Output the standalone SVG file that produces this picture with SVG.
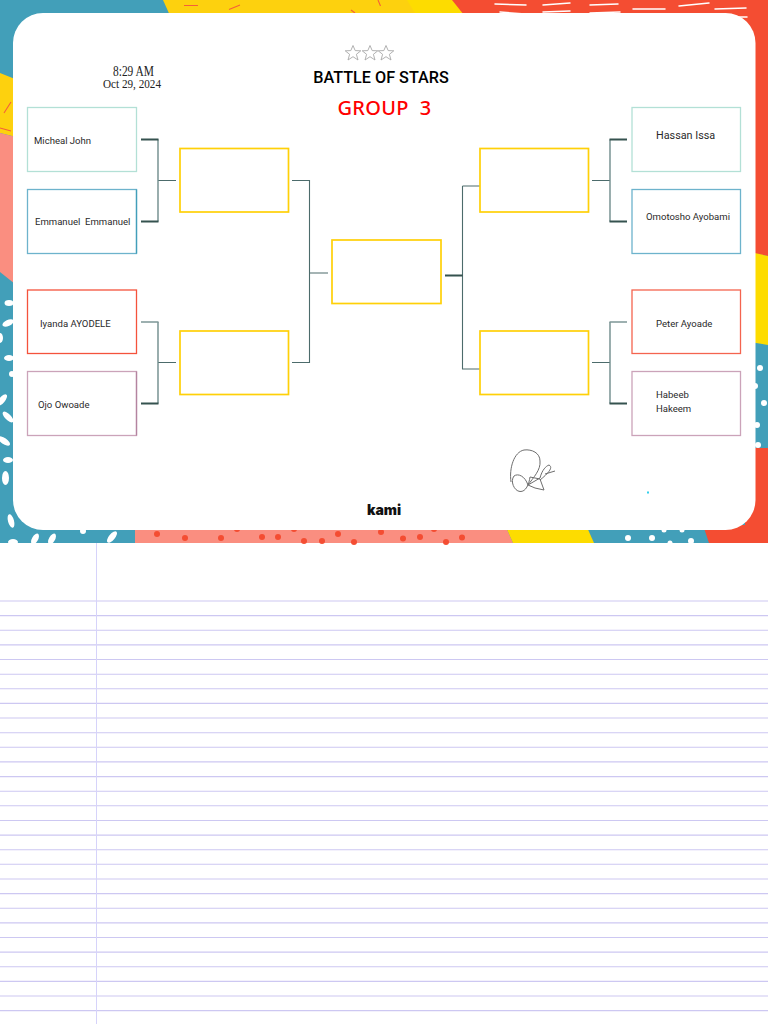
<svg xmlns="http://www.w3.org/2000/svg" width="768" height="1024" viewBox="0 0 768 1024">
<style>
.t{font-family:"Roboto","Liberation Sans",sans-serif;font-size:9.55px;fill:#2a2a2a}
.y{fill:#fff;stroke:#ffd008;stroke-width:1.7}
.c{fill:none;stroke:#4c6b6b;stroke-width:1.1}
.v{fill:none;stroke:#6f8c8c;stroke-width:1.4}
.c2{fill:none;stroke:#35524f;stroke-width:1.8}
.c3{fill:none;stroke:#7d9696;stroke-width:1.3}
.r{stroke:#cdc8f2;stroke-width:1.1;fill:none}
.w{stroke:#fff;stroke-width:1.5;stroke-linecap:round;fill:none}
.s{fill:#fff;stroke:#a8a8a8;stroke-width:.9}
.n{fill:#fff;stroke-width:1.3}
.e{fill:none;stroke-width:1.3}
</style>
<defs><polygon id="st" points="0,-7.500 2.200,-2.400 7.800,-2.200 3.400,1.300 5,7 0,3.700 -5,7 -3.400,1.300 -7.800,-2.200 -2.200,-2.400"/></defs>
<rect width="768" height="1024" fill="#fff"/>
<g id="background">
<rect width="768" height="543" fill="#429fb9"/>
<polygon points="163,0 470,0 470,20 172,20" fill="#fdd10e"/>
<polygon points="407,0 452,0 468,20 419,20" fill="#fddc00"/>
<polygon points="452,0 768,0 768,256 745,252 745,20 468,20" fill="#f44d32"/>
<polygon points="750,252 768,256 768,345 750,342" fill="#fddc00"/>
<polygon points="745,448 768,448 768,543 709,543 703,525 745,525" fill="#f44d32"/>
<polygon points="0,73 20,81 20,138 0,133" fill="#fdd10e"/>
<polygon points="0,133 20,138 20,288 0,272" fill="#fa8e80"/>
<polygon points="135,525 505,525 513,543 135,543" fill="#fa8e80"/>
<polygon points="505,525 586,525 594,543 513,543" fill="#fddc00"/>
<path stroke="#f4603a" stroke-width="1.100" fill="none" d="M184,5.500H198M229,9.500L240,5M378,0L380.500,6M351,10L355,13M4,113L11,102M0,128L11,131"/>
<path class="w" d="M495,4L526,5M543,5L570,3M590,5L618,4M633,9L665,9M679,6L709,3M715,9L746,8M500,12L525,14M543,12L570,11M590,13L620,12M735,17L747,17"/>
<g fill="#fff"><ellipse cx="9" cy="303" rx="4.500" ry="3"/><ellipse cx="8" cy="323" rx="6" ry="3" transform="rotate(-25 8 323)"/><ellipse cx="0" cy="338" rx="3" ry="5"/><ellipse cx="9" cy="358" rx="5" ry="3"/><ellipse cx="12" cy="374" rx="3" ry="3"/><ellipse cx="2" cy="400" rx="7" ry="3" transform="rotate(-50 2 400)"/><ellipse cx="8" cy="417" rx="7" ry="3" transform="rotate(45 8 417)"/><ellipse cx="4" cy="441" rx="7" ry="3" transform="rotate(35 4 441)"/><ellipse cx="8" cy="460" rx="5" ry="3"/><ellipse cx="5.500" cy="478" rx="3.500" ry="7"/><ellipse cx="11" cy="521" rx="3" ry="7" transform="rotate(-15 11 521)"/><ellipse cx="13" cy="542" rx="5" ry="3"/><ellipse cx="83" cy="531" rx="3" ry="3"/><ellipse cx="35" cy="539" rx="3" ry="6" transform="rotate(30 35 539)"/><ellipse cx="52" cy="539" rx="3" ry="6" transform="rotate(30 52 539)"/><ellipse cx="112" cy="537" rx="3" ry="7" transform="rotate(40 112 537)"/><circle cx="760" cy="368" r="3"/><circle cx="755" cy="386" r="3"/><circle cx="764" cy="403" r="3"/><circle cx="757" cy="425" r="3"/><circle cx="758" cy="445" r="3"/><circle cx="628" cy="538" r="3"/><circle cx="652" cy="538" r="3"/><circle cx="664" cy="530" r="2.500"/><circle cx="682" cy="530" r="2.500"/><circle cx="670" cy="543" r="2.500"/><circle cx="691" cy="541" r="3"/></g>
<g fill="#f44d32"><circle cx="157" cy="534" r="3"/><circle cx="185" cy="538" r="3"/><circle cx="221" cy="538" r="3"/><circle cx="237" cy="529" r="3"/><circle cx="262" cy="537" r="3"/><circle cx="278" cy="537" r="3"/><circle cx="294" cy="529" r="3"/><circle cx="304" cy="541" r="3"/><circle cx="322" cy="541" r="3"/><circle cx="338" cy="534" r="3"/><circle cx="354" cy="542" r="3"/><circle cx="381" cy="532" r="3"/><circle cx="403" cy="538.500" r="3"/><circle cx="420" cy="537" r="3"/><circle cx="434" cy="529" r="3"/><circle cx="446" cy="542" r="3"/><circle cx="462" cy="537.500" r="3"/></g>
<rect x="13" y="13" width="742.500" height="517" rx="30" fill="#fff"/>
</g>
<g id="paper">
<path class="r" d="M0,601H768M0,615.600H768M0,630.300H768M0,644.900H768M0,659.500H768M0,674.200H768M0,688.800H768M0,703.400H768M0,718H768M0,732.700H768M0,747.300H768M0,761.900H768M0,776.600H768M0,791.200H768M0,805.800H768M0,820.500H768M0,835.100H768M0,849.700H768M0,864.300H768M0,879H768M0,893.600H768M0,908.200H768M0,922.900H768M0,937.500H768M0,952.100H768M0,966.800H768M0,981.400H768M0,996H768M0,1010.600H768"/>
<path stroke="#d6d3fa" stroke-width="1" d="M96.500,543V1024"/>
</g>
<g id="connectors">
<path class="c" d="M158,180.500H176M292,180.500H309.500V362.500H292M309.500,273H328M462.500,186H480M462.500,186V369H480M592,180.500H610M592,362.500H610M158,362.500H176"/>
<path class="v" d="M158,139.500V221.500M158,322V403.500M610,139.500V221.500M610,322V403.500"/>
<path class="c2" d="M141,139.500H158.500M141,221.500H158.500M141,403.500H158.500M627,139.500H609.500M627,221.500H609.500M627,403.500H609.500M445,275.500H462.500"/>
<path class="c3" d="M141,322H158.500M627,322H609.500"/>
</g>
<g id="title">
<use href="#st" x="353" y="53" class="s"/><use href="#st" x="370" y="53" class="s"/><use href="#st" x="386" y="53" class="s"/>
<text x="381" y="83" text-anchor="middle" style="font-family:Roboto,'Liberation Sans',sans-serif;font-size:16.200px;font-weight:500;fill:#000">BATTLE OF STARS</text>
<text x="384.500" y="115" text-anchor="middle" style="font-family:'Noto Sans','Liberation Sans',sans-serif;font-size:20px;font-weight:500;fill:#f00;letter-spacing:.3px" xml:space="preserve">GROUP  3</text>
<text x="133.500" y="76" text-anchor="middle" style="font-family:'Liberation Serif',serif;font-size:15px;fill:#222" textLength="41" lengthAdjust="spacingAndGlyphs">8:29 AM</text>
<text x="132" y="88" text-anchor="middle" style="font-family:'Liberation Serif',serif;font-size:11.600px;fill:#222" textLength="58" lengthAdjust="spacingAndGlyphs">Oct 29, 2024</text>
</g>
<g id="n1"><rect class="n" x="27.500" y="107.500" width="109" height="64" stroke="#b3e0d6"/><text class="t" x="34" y="143.500">Micheal John</text></g>
<g id="n2"><rect class="n" x="27.500" y="189.500" width="109" height="64" stroke="#6db3cc"/><path class="e" d="M136.500,189.500V253.500" stroke="#429fb9"/><text class="t" x="35" y="224.500" xml:space="preserve">Emmanuel  Emmanuel</text></g>
<g id="n3"><rect class="n" x="27.500" y="290" width="109" height="63.500" stroke="#f4533c"/><text class="t" x="40" y="326.500">Iyanda AYODELE</text></g>
<g id="n4"><rect class="n" x="27.500" y="371.500" width="109" height="64" stroke="#cba3b9"/><path class="e" d="M136.500,371.500V435.500" stroke="#b484a0"/><text class="t" x="38" y="407.500">Ojo Owoade</text></g>
<g id="n5"><rect class="n" x="632" y="107.500" width="108.500" height="64" stroke="#b3e0d6"/><text class="t" x="656" y="139" style="font-size:10.800px">Hassan Issa</text></g>
<g id="n6"><rect class="n" x="632" y="189.500" width="108.500" height="64" stroke="#6db3cc"/><text class="t" x="646" y="219.500">Omotosho Ayobami</text></g>
<g id="n7"><rect class="n" x="632" y="290" width="108.500" height="63.500" stroke="#f4644f"/><text class="t" x="656" y="326.500">Peter Ayoade</text></g>
<g id="n8"><rect class="n" x="632" y="371.500" width="108.500" height="64" stroke="#cba3b9"/><text class="t" x="656" y="397.500">Habeeb</text><text class="t" x="656" y="411.500">Hakeem</text></g>
<g id="m1"><rect class="y" x="180" y="148.500" width="108.500" height="63.500"/></g>
<g id="m2"><rect class="y" x="180" y="331" width="108.500" height="63.500"/></g>
<g id="m3"><rect class="y" x="480" y="148.500" width="108.500" height="63.500"/></g>
<g id="m4"><rect class="y" x="480" y="331" width="108.500" height="63.500"/></g>
<g id="final"><rect class="y" x="332" y="240" width="109" height="63.500"/></g>
<g id="signature"><path d="M511,482C509,468 514,452 524,450C532,449 540,453 540,461C541,470 533,478 528,485C525,476 518,473 514,476C510,481 514,491 520,491.500C526,492 529,484 530,477L540,479L544,490L535,488L528,485L540,478C542,470 546,466 549,465C553,467 550,472 540,480M545,474L555,471" fill="none" stroke="#6e6e6e" stroke-width="1"/></g>
<g id="logo"><text x="384" y="515" text-anchor="middle" style="font-family:Inter,'Liberation Sans',sans-serif;font-size:14px;font-weight:900;fill:#111">kami</text></g>
<rect x="647" y="491.500" width="2" height="2" fill="#35d0ec"/>
</svg>
